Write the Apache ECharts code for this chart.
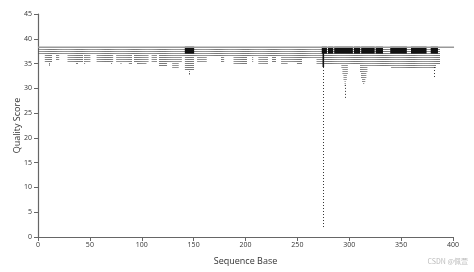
<!DOCTYPE html>
<html><head><meta charset="utf-8">
<script src="https://cdn.jsdelivr.net/npm/echarts@6/dist/echarts.min.js"></script>
<style>html,body{margin:0;padding:0;background:#fff}#c{width:474px;height:272px}</style>
</head><body><div id="c"></div>
<script>
// ---- data ----
const xTickValues = [0, 50, 100, 150, 200, 250, 300, 350, 400];
const yTickValues = [0, 5, 10, 15, 20, 25, 30, 35, 40, 45];
const lastBase = 387;
const topQuality = 38.3;
const topLineRange = [0, 401];
// [firstBase, lastBase, lowest quality row]
const baselineRuns = [[1, 120, 37.1], [121, 270, 36.5], [271, 387, 35.5]];
const clusterRuns = [
  [7, 13, 35.3], [11, 11, 34.8], [18, 20, 35.8], [29, 43, 35.5], [37, 38, 34.9],
  [45, 50, 35.5], [45, 45, 34.9], [57, 72, 35.5], [71, 71, 34.9], [76, 90, 35.5],
  [80, 80, 34.9], [88, 90, 34.9], [93, 106, 35.3], [96, 104, 34.8], [110, 114, 35.3],
  [117, 124, 34.5], [125, 138, 35.3], [130, 135, 34.1], [142, 150, 33.7], [146, 146, 33.0],
  [154, 162, 35.3], [177, 179, 35.3], [189, 201, 35.1], [207, 207, 35.3], [213, 221, 35.1],
  [226, 229, 35.3], [235, 240, 35.1], [241, 249, 35.3], [250, 254, 35.1], [255, 268, 36.3],
  [269, 292, 35.1], [293, 293, 34.3], [294, 294, 33.1], [295, 295, 31.9], [296, 296, 30.7],
  [297, 297, 31.9], [298, 298, 33.1], [299, 310, 35.1], [311, 311, 33.5], [312, 312, 32.3],
  [313, 313, 31.5], [314, 314, 31.1], [315, 315, 31.5], [316, 316, 32.3], [317, 317, 33.5],
  [318, 340, 34.5], [341, 383, 34.3], [384, 387, 35.0]
];
const denseRuns = [[142, 150], [274, 278], [280, 284], [286, 303], [305, 310], [312, 324], [326, 332], [340, 355], [360, 374], [379, 385]];
const denseBottom = 37.1;
const solidDrops = [[275, 34.3]];
const dottedTails = [[275, 34.3, 1.8], [296, 30.7, 28.0], [382, 34.3, 32.0], [11, 34.8, 34.4], [146, 33.0, 32.8]];
const rowStep = 0.4;

// ---- build per-base lowest row ----
const minByBase = {};
baselineRuns.forEach(([s, e, v]) => { for (let p = s; p <= e; p++) minByBase[p] = v; });
clusterRuns.forEach(([s, e, v]) => { for (let p = s; p <= e; p++) minByBase[p] = v; });
const rowData = [];
for (let p = 1; p <= lastBase; p++) rowData.push([p, minByBase[p]]);

const chart = echarts.init(document.getElementById('c'), null, {renderer: 'canvas'});
const axisColor = '#666';
const labelColor = '#333';
const font = 'Open Sans, Noto Sans, sans-serif';

function renderRows(params, api) {
  const pos = api.value(0), lo = api.value(1);
  const children = [];
  for (let k = 0; ; k++) {
    const v = topQuality - k * rowStep;
    if (v < lo - 1e-6) break;
    const a = api.coord([pos - 0.38, v]), b = api.coord([pos + 0.38, v]);
    const y = Math.round(a[1]) + 0.5;
    children.push({type: 'line', shape: {x1: a[0], y1: y, x2: b[0], y2: y},
      style: {stroke: k < 1 ? '#999' : '#444', lineWidth: 0.9}});
  }
  return {type: 'group', children};
}
function renderDense(params, api) {
  const s = api.value(0), e = api.value(1);
  const a = api.coord([s - 0.5, topQuality]), b = api.coord([e + 0.5, denseBottom]);
  return {type: 'rect', shape: {x: a[0], y: a[1] - 0.5, width: b[0] - a[0], height: b[1] - a[1] + 1}, style: {fill: '#111'}};
}
function renderSolid(params, api) {
  const p = api.value(0), lo = api.value(1);
  const a = api.coord([p, topQuality]), b = api.coord([p, lo]);
  return {type: 'line', shape: {x1: a[0], y1: a[1], x2: b[0], y2: b[1]}, style: {stroke: '#111', lineWidth: 1.6}};
}
function renderTail(params, api) {
  const p = api.value(0), hi = api.value(1), lo = api.value(2);
  const a = api.coord([p, hi]), b = api.coord([p, lo]);
  const x = Math.round(a[0]) + 0.5;
  return {type: 'line', shape: {x1: x, y1: a[1], x2: x, y2: b[1]}, style: {stroke: '#333', lineWidth: 1, lineDash: [1, 2]}};
}

chart.setOption({
  animation: false,
  backgroundColor: '#fff',
  grid: {left: 38, right: 21, top: 14, bottom: 35, containLabel: false, outerBoundsMode: 'none'},
  xAxis: {
    type: 'value', min: 0, max: 400, interval: 50,
    name: 'Sequence Base', nameLocation: 'middle', nameGap: 20, nameMoveOverlap: false,
    nameTextStyle: {fontSize: 9, color: labelColor, fontFamily: font},
    axisLine: {lineStyle: {color: axisColor, width: 1.2}},
    axisTick: {show: true, length: 4, lineStyle: {color: axisColor}},
    axisLabel: {fontSize: 7, color: labelColor, fontFamily: font, margin: 4},
    splitLine: {show: false}
  },
  yAxis: {
    type: 'value', min: 0, max: 45, interval: 5,
    name: 'Quality Score', nameLocation: 'middle', nameGap: 16, nameMoveOverlap: false,
    nameTextStyle: {fontSize: 9, color: labelColor, fontFamily: font},
    axisLine: {show: true, lineStyle: {color: axisColor, width: 1.2}},
    axisTick: {show: true, length: 4, lineStyle: {color: axisColor}},
    axisLabel: {fontSize: 7, color: labelColor, fontFamily: font, margin: 6},
    splitLine: {show: false}
  },
  graphic: [{type: 'text', right: 6, top: 258, style: {text: 'CSDN @佩萱', fontSize: 7, fill: '#bbb', fontFamily: 'Noto Sans CJK SC, sans-serif'}}],
  series: [
    {type: 'line', data: [[topLineRange[0], topQuality], [topLineRange[1], topQuality]], symbol: 'none',
      lineStyle: {color: '#999', width: 1.5}, silent: true},
    {type: 'custom', renderItem: renderRows, data: rowData, silent: true},
    {type: 'custom', renderItem: renderDense, data: denseRuns, silent: true},
    {type: 'custom', renderItem: renderSolid, data: solidDrops, silent: true},
    {type: 'custom', renderItem: renderTail, data: dottedTails, silent: true}
  ]
});
</script></body></html>
